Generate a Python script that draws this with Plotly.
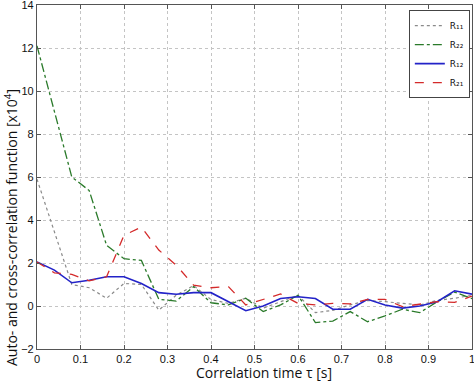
import plotly.graph_objects as go

tau = [0.00, 0.04, 0.08, 0.12, 0.16, 0.20, 0.24, 0.28, 0.32, 0.36, 0.40, 0.44, 0.48,
       0.52, 0.56, 0.60, 0.64, 0.68, 0.72, 0.76, 0.80, 0.84, 0.88, 0.92, 0.96, 1.00]

R11 = [5.9, 3.4, 1.0, 0.85, 0.36, 1.05, 1.0, -0.19, 0.5, 0.95, 0.3, 0.12, 0.36,
       -0.1, 0.2, 0.5, -0.31, -0.2, 0.05, 0.26, 0.2, 0.12, 0.05, 0.26, 0.36, 0.5]
R22 = [12.1, 9.0, 6.0, 5.37, 2.82, 2.2, 2.12, 0.31, 0.23, 0.9, 0.15, 0.05, 0.36,
       -0.26, 0.05, 0.5, -0.77, -0.7, -0.26, -0.73, -0.46, -0.15, -0.31, 0.2, 0.65, 0.34]
R12 = [2.05, 1.67, 1.08, 1.2, 1.36, 1.36, 1.05, 0.62, 0.55, 0.62, 0.62, 0.2, -0.22,
       0.0, 0.35, 0.43, 0.35, -0.15, -0.15, 0.31, 0.05, -0.1, 0.0, 0.2, 0.71, 0.55]
R21 = [2.05, 1.54, 1.47, 1.17, 1.36, 3.29, 3.67, 2.6, 1.9, 0.97, 0.85, 0.9, 0.05,
       0.3, 0.56, 0.12, 0.05, 0.12, 0.1, 0.31, 0.31, -0.03, 0.07, 0.2, 0.17, 0.46]

names = ["R₁₁", "R₂₂", "R₁₂", "R₂₁"]
series = [R11, R22, R12, R21]
colors = ["#8a8a8a", "#2a7a2a", "#2323c8", "#d42a2a"]
dashes = ["dot", "dashdot", "solid", "dash"]
widths = [1.2, 1.3, 1.6, 1.3]

x_ticks = [0, 0.1, 0.2, 0.3, 0.4, 0.5, 0.6, 0.7, 0.8, 0.9, 1]
x_tick_text = ["0", "0.1", "0.2", "0.3", "0.4", "0.5", "0.6", "0.7", "0.8", "0.9", "1"]
y_ticks = [-2, 0, 2, 4, 6, 8, 10, 12, 14]

fig = go.Figure()
for nm, ys, c, d, w in zip(names, series, colors, dashes, widths):
    fig.add_trace(go.Scatter(x=tau, y=ys, mode="lines", name=nm,
                             line=dict(color=c, dash=d, width=w)))

axis_common = dict(showline=True, linecolor="#555555", linewidth=1.2, mirror="ticks",
                   ticks="inside", ticklen=4, tickcolor="#555555",
                   showgrid=True, gridcolor="#c4c4c4", griddash="dot", gridwidth=1,
                   zeroline=False, automargin=False, ticklabeloverflow="allow",
                   tickfont=dict(family="Liberation Sans, Arial", size=11, color="#111111"))

fig.update_xaxes(range=[0, 1], tickvals=x_ticks, ticktext=x_tick_text, **axis_common)
fig.update_yaxes(range=[-2, 14], tickvals=y_ticks, **axis_common)

fig.add_annotation(text="Correlation time τ [s]", xref="paper", yref="paper",
                   x=0.522, y=0, yshift=-34, xanchor="center", yanchor="bottom",
                   showarrow=False, borderpad=0,
                   font=dict(family="Open Sans, Liberation Sans", size=14, color="#111111"))
fig.add_annotation(text="Auto- and cross-correlation function [x10<sup>4</sup>]",
                   xref="paper", yref="paper", x=-0.061, y=0.353,
                   xanchor="center", yanchor="middle", textangle=-90,
                   showarrow=False,
                   font=dict(family="Open Sans, Liberation Sans", size=14, color="#111111"))

fig.update_layout(
    width=474, height=381,
    margin=dict(l=37, r=2, t=5, b=32),
    paper_bgcolor="white", plot_bgcolor="white",
    showlegend=True,
    legend=dict(x=0.995, y=0.985, xanchor="right", yanchor="top",
                bgcolor="white", bordercolor="#444444", borderwidth=1,
                font=dict(family="DejaVu Sans, Liberation Sans", size=9, color="#111111"),
                tracegroupgap=0, itemwidth=30),
)

fig.write_html("out.html", config={"displayModeBar": False},
               post_script="document.body.style.margin='0';document.body.style.overflow='hidden';")
